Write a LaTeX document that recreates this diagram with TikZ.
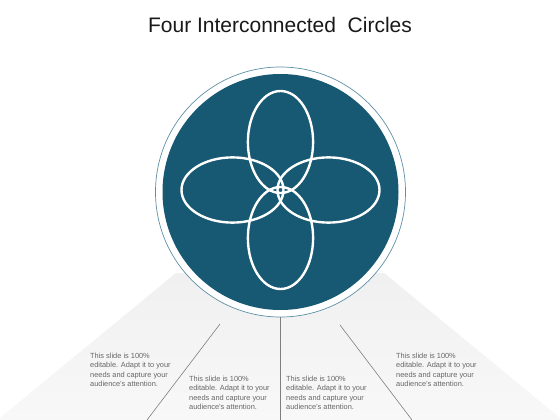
\documentclass[tikz,border=0pt]{standalone}
\usepackage{fontspec}
\setmainfont{Liberation Sans}
\definecolor{disc}{HTML}{175872}
\definecolor{ringc}{HTML}{5E8FA5}
\definecolor{txtgray}{HTML}{666666}
\definecolor{linegray}{HTML}{7F7F7F}
\definecolor{bgtop}{HTML}{F0F0F0}
\definecolor{bgbot}{HTML}{F8F8F8}
\begin{document}
\begin{tikzpicture}[x=1pt,y=-1pt,
  petal/.style={draw=white,line width=2.4pt},
  bodytext/.style={anchor=north west,align=left,text=txtgray,font=\fontsize{7.4}{9.3}\selectfont,inner sep=0pt},
  leader/.style={draw=linegray,line width=0.6pt}]
\useasboundingbox (0,0) rectangle (560,420);
\fill[white] (0,0) rectangle (560,420);
% background trapezoid
\shade[top color=bgtop,bottom color=bgbot] (176,273) -- (384,273) -- (560,418) -- (560,420) -- (0,420) -- (0,418) -- cycle;
% title
\node[font=\fontsize{21}{24}\selectfont,text=black!90] (title) at (280,25) {Four Interconnected\ \ Circles};
% circle
\node[circle,draw=ringc,line width=0.7pt,fill=white,minimum size=250pt,inner sep=0pt] (ring) at (280.5,192) {};
\node[circle,fill=disc,minimum size=236pt,inner sep=0pt] (disc) at (280.5,192) {};
% petals
\coordinate (c) at (280.5,190);
\draw[petal] ([yshift=-48pt]c) ellipse [x radius=32.6, y radius=51];
\draw[petal] ([yshift=48pt]c) ellipse [x radius=32.6, y radius=51];
\draw[petal] ([xshift=-48pt]c) ellipse [x radius=51, y radius=32.6];
\draw[petal] ([xshift=48pt]c) ellipse [x radius=51, y radius=32.6];
% leader lines
\coordinate (l1a) at (220,324); \coordinate (l1b) at (147,420);
\coordinate (l2b) at (280.5,420);
\coordinate (l3a) at (340,325); \coordinate (l3b) at (412,420);
\draw[leader] (l1a) -- (l1b);
\draw[leader] (ring.south) -- (l2b);
\draw[leader] (l3a) -- (l3b);
% texts
\node[bodytext] (t1) at (90,353) {This slide is 100\%\\editable. Adapt it to your\\needs and capture your\\audience's attention.};
\node[bodytext] (t2) at (189,376) {This slide is 100\%\\editable. Adapt it to your\\needs and capture your\\audience's attention.};
\node[bodytext] (t3) at (286,376) {This slide is 100\%\\editable. Adapt it to your\\needs and capture your\\audience's attention.};
\node[bodytext] (t4) at (396,353) {This slide is 100\%\\editable. Adapt it to your\\needs and capture your\\audience's attention.};
\end{tikzpicture}
\end{document}
